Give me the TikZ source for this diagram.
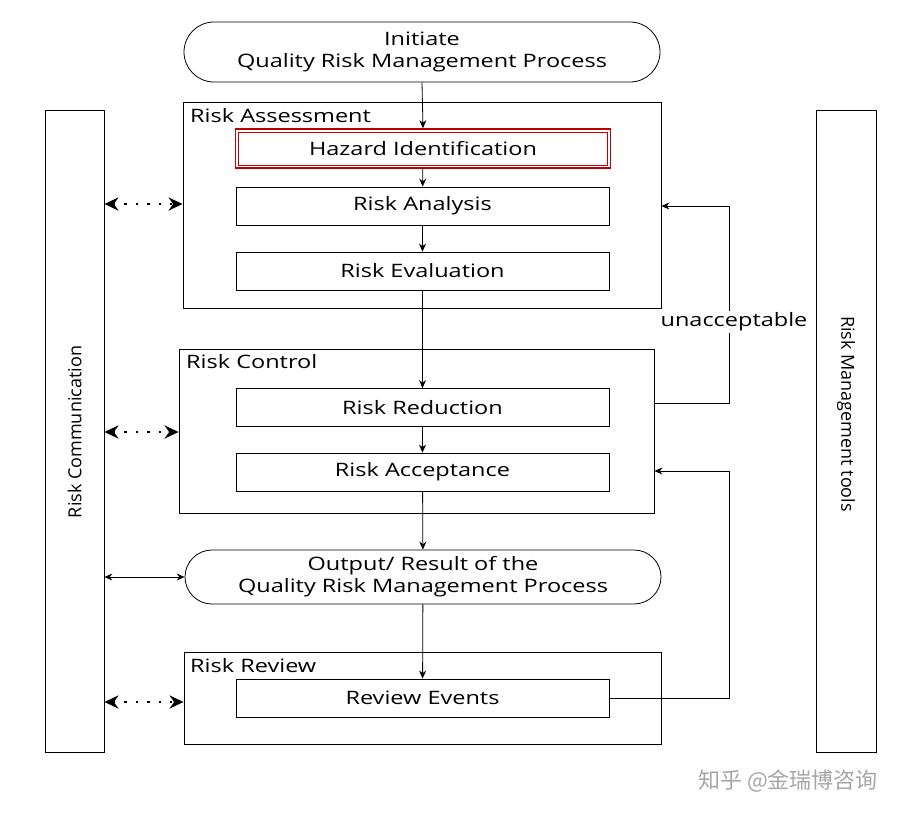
\documentclass[tikz,border=0pt]{standalone}
\usepackage{fontspec}
\setmainfont{Open Sans}[FakeStretch=1.27]
\newfontfamily\plainsans{Open Sans}
\newfontfamily\cjk{Noto Sans CJK SC}
\usetikzlibrary{arrows.meta,shapes.misc}
\begin{document}
\begin{tikzpicture}[x=1pt,y=-1pt,
  every node/.style={font=\fontsize{18.5}{22}\selectfont},
  box/.style={draw,line width=0.8pt,minimum width=373pt,minimum height=38pt,inner sep=0pt},
  frame/.style={draw,line width=0.8pt},
  stad/.style={draw,line width=0.8pt,rounded rectangle,minimum width=476pt,align=center,inner sep=0pt},
  arr/.style={line width=0.8pt,-{Stealth[length=8pt,width=7pt]}},
  dd/.style={line width=2.4pt,dash pattern=on 2.4pt off 9pt,{Stealth[length=14pt,width=13pt]}-{Stealth[length=14pt,width=13pt]}},
  side/.style={font=\plainsans\fontsize{18}{22}\selectfont},
  lbl/.style={anchor=west,inner sep=0pt}]
\useasboundingbox (0,0) rectangle (924,820);
\node[stad,minimum height=60pt] (init) at (422,52) {Initiate\\Quality Risk Management Process};
\node[frame,minimum width=478pt,minimum height=206pt,inner sep=0pt] (ra) at (422,205) {};
\node[lbl] (ral) at (190,116) {Risk Assessment};
\node[box,draw=red!75!black,line width=1.6pt,minimum width=375pt,minimum height=39pt] (hi) at (423,148.5) {Hazard Identification};
\node[draw=red!75!black,line width=0.5pt,minimum width=369pt,minimum height=33pt,inner sep=0pt] (hii) at (423,148.5) {};
\node[box] (ran) at (422.5,206) {Risk Analysis};
\node[box] (rev) at (422.5,271) {Risk Evaluation};
\node[frame,minimum width=475pt,minimum height=164pt,inner sep=0pt] (rc) at (416.5,431) {};
\node[lbl] (rcl) at (186,362) {Risk Control};
\node[box] (rr) at (422.5,407.5) {Risk Reduction};
\node[box] (racc) at (422.5,472) {Risk Acceptance};
\node[stad,minimum height=54pt] (out) at (423,577) {Output/ Result of the\\Quality Risk Management Process};
\node[frame,minimum width=477pt,minimum height=92pt,inner sep=0pt] (rv) at (422.5,698) {};
\node[lbl] (rvl) at (190,666) {Risk Review};
\node[box] (re) at (422.5,698) {Review Events};
\node[frame,minimum width=59pt,minimum height=642pt,inner sep=0pt] (rcom) at (74.5,431) {};
\node[side,rotate=90] (rcomt) at (74.5,432) {Risk Communication};
\node[frame,minimum width=60pt,minimum height=642pt,inner sep=0pt] (rmt) at (846,431) {};
\node[side,rotate=-90] (rmtt) at (846,414) {Risk Management tools};
% main flow
\draw[arr] (init.south) -- (hi.north);
\draw[arr] (hi) -- (ran);
\draw[arr] (ran) -- (rev);
\draw[arr] (rev) -- (rr);
\draw[arr] (rr) -- (racc);
\draw[arr] (racc) -- (out);
\draw[arr] (out) -- (re);
% feedback
\coordinate (f1) at (729,403);
\coordinate (f2) at (729,206);
\draw[arr] (rc.east |- f1) -- (f1) -- (f2) -- (ra.east |- f2);
\node[fill=white,inner sep=2pt] (un) at (734,322) {unacceptable};
\coordinate (g1) at (729,698);
\coordinate (g2) at (729,471);
\draw[arr] (re.east) -- (g1) -- (g2) -- (rc.east |- g2);
% communication arrows
\draw[dd] (rcom.east |- 0,204) -- (ra.west |- 0,204);
\draw[dd] (rcom.east |- 0,432) -- (rc.west |- 0,432);
\draw[dd] (rcom.east |- 0,702) -- (rv.west |- 0,702);
\draw[line width=0.8pt,{Stealth[length=8pt,width=7pt]}-{Stealth[length=8pt,width=7pt]}] (rcom.east |- out) -- (out.west);
\node[text=gray!70,font=\cjk\fontsize{22}{26}\selectfont] (wm) at (788,781) {知乎 @金瑞博咨询};
\end{tikzpicture}
\end{document}
